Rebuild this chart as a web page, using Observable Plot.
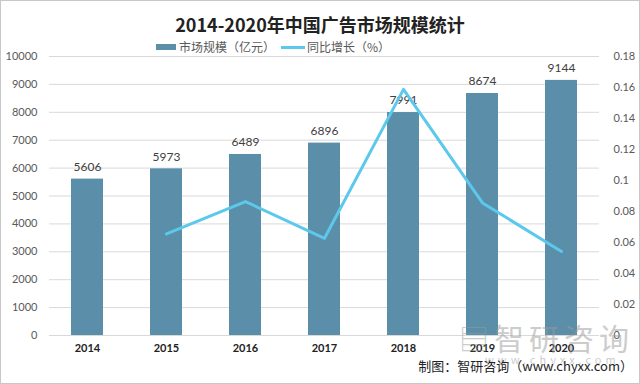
<!DOCTYPE html>
<html><head><meta charset="utf-8">
<script src="https://cdn.jsdelivr.net/npm/d3@7"></script>
<script src="https://cdn.jsdelivr.net/npm/@observablehq/plot@0.6"></script>
<style>
body{margin:0;background:#fff;font-family:Lato,"Noto Sans CJK SC",sans-serif;}
#wrap{position:relative;width:638px;height:382px;border:1px solid #c8c8c8;overflow:hidden;background:#fff;}
#title{position:absolute;left:0;top:10px;width:638px;text-align:center;font-size:18px;font-weight:bold;color:#222;font-family:"Noto Sans CJK SC",serif;}
#legend{position:absolute;top:37px;left:0;width:638px;font-size:12px;color:#595959;font-family:"Noto Sans CJK SC",sans-serif;}
#chart{position:absolute;left:0;top:46px;}
#caption{position:absolute;right:6px;top:356px;font-size:13px;line-height:18px;color:#222;font-family:"Noto Sans CJK SC",sans-serif;white-space:nowrap;}
#wm{position:absolute;left:458px;top:320px;color:#9a9a9a;opacity:0.5;font-family:"Noto Sans CJK SC",sans-serif;pointer-events:none;white-space:nowrap;}
</style></head><body>
<div id="wrap">
<div id="title">2014-2020年中国广告市场规模统计</div>
<div id="legend">
 <span style="position:absolute;left:155px;top:6px;width:20px;height:6px;background:#5b8ea8;"></span>
 <span style="position:absolute;left:178px;top:0;">市场规模（亿元）</span>
 <span style="position:absolute;left:280px;top:8px;width:24px;height:3px;background:#5cc8ec;"></span>
 <span style="position:absolute;left:306px;top:0;">同比增长（%）</span>
</div>
<div id="chart"></div>
<div id="wm"><div style="font-size:30px;letter-spacing:5px;line-height:32px;">▤智研咨询</div><div style="font-size:11px;line-height:13px;letter-spacing:4px;padding-left:26px;">www.chyxx.com</div></div>
<div id="caption">制图：智研咨询（www.chyxx.com）</div>
</div>
<script>
const years = ["2014","2015","2016","2017","2018","2019","2020"];
const scale = [5606,5973,6489,6896,7991,8674,9144];
const growth = [null,0.0655,0.0864,0.0627,0.1588,0.0855,0.0542];
const leftTicks = [0,1000,2000,3000,4000,5000,6000,7000,8000,9000,10000];
const rightTicks = [0,0.02,0.04,0.06,0.08,0.1,0.12,0.14,0.16,0.18];

const K = 10000/0.18;
const bars = years.map((y,i)=>({year:y, value:scale[i]}));
const line = years.map((y,i)=>({year:y, g:growth[i]})).filter(d=>d.g!=null);

const chart = Plot.plot({
  width:638, height:314,
  marginTop:9, marginLeft:48, marginRight:40, marginBottom:26,
  style:{fontFamily:'Lato,"Noto Sans CJK SC",sans-serif', fontSize:"11px", color:"#595959"},
  x:{domain:years, paddingInner:0.6, paddingOuter:0.28, label:null},
  y:{domain:[0,10000], label:null},
  marks:[
    Plot.gridY(leftTicks,{stroke:"#d9d9d9", strokeOpacity:1}),
    Plot.axisY(leftTicks,{anchor:"left", tickSize:0, tickPadding:12, label:null, fontSize:11, fill:"#595959", tickFormat:d=>String(d)}),
    Plot.axisY(rightTicks.map(v=>v*K),{anchor:"right", tickSize:0, tickPadding:14, label:null, fontSize:11, fill:"#595959",
      tickFormat:v=>String(+(v/K).toFixed(2))}),
    Plot.axisX({tickSize:0, tickPadding:9, label:null, fontWeight:"bold", fontSize:11, fill:"#222"}),
    Plot.barY(bars,{x:"year", y:"value", fill:"#5b8ea8"}),
    Plot.text(bars,{x:"year", y:"value", text:d=>String(d.value), dy:-12, fontSize:12, fill:"#404040"}),
    Plot.line(line,{x:"year", y:d=>d.g*K, stroke:"#5cc8ec", strokeWidth:3})
  ]
});
document.getElementById("chart").appendChild(chart);
</script>
</body></html>
